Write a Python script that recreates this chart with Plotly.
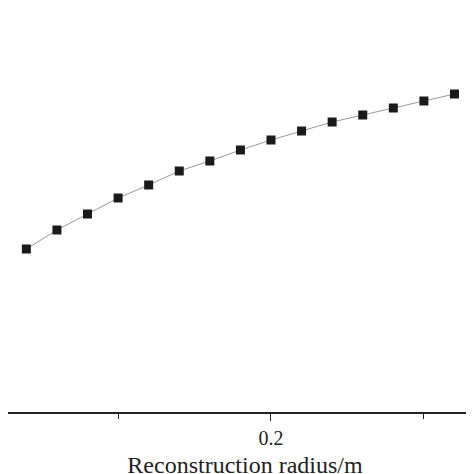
import plotly.graph_objects as go

radius = [0.12, 0.13, 0.14, 0.15, 0.16, 0.17, 0.18, 0.19, 0.20, 0.21, 0.22, 0.23, 0.24, 0.25, 0.26]
value = [163, 182, 198, 214, 227, 241, 251, 262, 272, 281, 290, 297, 304, 311, 318]

fig = go.Figure(go.Scatter(
    x=radius, y=value, mode='lines+markers',
    line=dict(color='#999999', width=1),
    marker=dict(symbol='square', size=9, color='#1a1a1a'),
))
fig.update_layout(
    width=474, height=474, margin=dict(l=0, r=0, t=0, b=70, autoexpand=False),
    paper_bgcolor='white', plot_bgcolor='white', showlegend=False,
    font=dict(family='Liberation Serif', color='#222222', size=20),
    xaxis=dict(range=[0.114, 0.269], tickvals=[0.2], ticktext=['0.2'],
               automargin=False,
               showline=True, linecolor='#222222', linewidth=1.5,
               ticks='outside', ticklen=7, tickcolor='#222222',
               minor=dict(tickvals=[0.15, 0.25], ticks='outside', ticklen=5, tickcolor='#222222'),
               showgrid=False, zeroline=False,
               title=dict(text='Reconstruction radius/m', standoff=8)),
    yaxis=dict(range=[0, 404], visible=False, automargin=False),
)
fig.write_html("out.html")
